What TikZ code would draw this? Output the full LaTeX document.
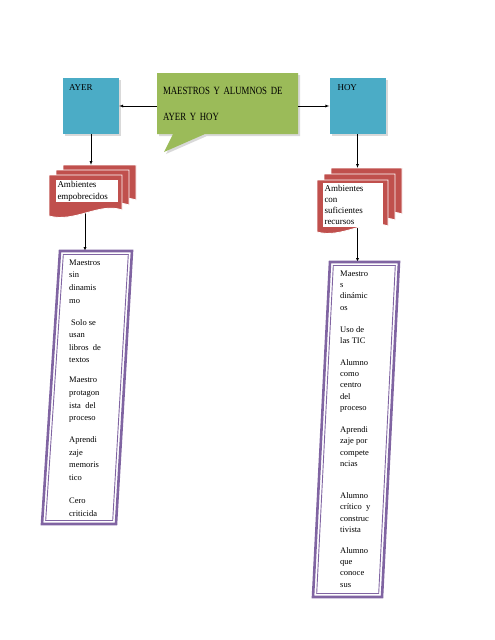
\documentclass[tikz,border=0pt]{standalone}
\usepackage{fontspec}
\setmainfont{Liberation Serif}
\newfontfamily\temafont[FakeStretch=0.8]{Liberation Serif}
\usetikzlibrary{shapes.callouts,shadows}

\definecolor{azulbox}{HTML}{4BACC6}
\definecolor{verdetema}{HTML}{9BBB59}
\definecolor{rojodoc}{HTML}{C0504D}
\definecolor{moradomarco}{HTML}{8064A2}

\tikzset{
  sombra/.style={drop shadow={shadow xshift=2pt, shadow yshift=-2pt, fill=gray!30, opacity=1}},
  cuadro/.style={fill=azulbox, minimum width=56pt, minimum height=56pt, inner sep=0pt, sombra},
  tema/.style={rectangle callout, fill=verdetema, sombra, minimum width=141pt, minimum height=61pt,
    text width=129pt, inner xsep=6pt, align=left, font=\temafont\fontsize{11}{26}\selectfont,
    callout absolute pointer={(164,152)}, callout pointer width=32pt},
  hojadoc/.style={fill=rojodoc, draw=white, line width=0.8pt},
  etiqueta/.style={fill=white, align=left, inner xsep=1.5pt, inner ysep=0pt, font=\fontsize{9}{12}\selectfont},
  marco/.style={draw=moradomarco, line width=2.6pt, line join=miter},
  marcoint/.style={draw=moradomarco, line width=0.9pt},
  lista/.style={anchor=north west, inner sep=0pt, align=left, font=\fontsize{8.5}{12.6}\selectfont},
  lista2/.style={lista, font=\fontsize{8.5}{11.3}\selectfont}
}

% one sheet of a stacked document: x, y, width, height
\newcommand{\hoja}[4]{%
  \draw[hojadoc] (#1,#2) -- (#1+#3,#2) -- (#1+#3,#2+#4-7)
    .. controls (#1+0.7*#3,#2+#4-15) and (#1+0.35*#3,#2+#4+6) .. (#1,#2+#4-1) -- cycle;}

\begin{document}
\begin{tikzpicture}[x=1pt,y=-1pt,>=latex]
    \useasboundingbox (0,0) rectangle (495,640);
    % Title and the two columns
    \node[tema] (tema) at (227.5,103.5) {MAESTROS Y ALUMNOS DE\\AYER Y HOY};
    \node[cuadro, label={[anchor=north west, inner sep=0pt, xshift=6pt, yshift=-7pt, font=\fontsize{9}{11}\selectfont]north west:AYER}] (ayer) at (91,106) {};
    \node[cuadro, label={[anchor=north west, inner sep=0pt, xshift=8pt, yshift=-7pt, font=\fontsize{9}{11}\selectfont]north west:HOY}] (hoy) at (357.5,106) {};
    % Arrows from the title
    \draw[->] (tema.west |- ayer.east) -- (ayer.east);
    \draw[->] (tema.east |- hoy.west) -- (hoy.west);
    % Arrows down the columns
    \coordinate (hojasayer) at (91,165);
    \coordinate (hojashoy) at (357.5,168);
    \coordinate (marcoayer) at (85,251);
    \coordinate (marcohoy) at (357.5,262);
    \draw[->] (ayer.south) -- (hojasayer);
    \draw[->] (hoy.south) -- (hojashoy);
    \draw[->] (85,205) -- (marcoayer);
    \draw[->] (357.5,215) -- (marcohoy);
    % Stacked documents
    \foreach \k in {2,1,0} \hoja{49+7*\k}{175-5*\k}{73}{42};
    \foreach \k in {2,1,0} \hoja{317+7*\k}{180-6*\k}{71}{53};
    \node[etiqueta, text width=59pt, minimum height=22pt] (docayer) at (87,191) {Ambientes\\empobrecidos};
    \node[etiqueta, text width=57pt, minimum height=44pt, font=\fontsize{9}{11}\selectfont] (dochoy) at (353,205) {Ambientes\\con\\suficientes\\recursos};
    % Framed lists
    \draw[marco] (60,251) -- (132,251) -- (116,524) -- (42,524) -- cycle;
    \draw[marcoint] (63.3,254.5) -- (128.3,254.5) -- (112.7,520.5) -- (45.7,520.5) -- cycle;
    \draw[marco] (330,262) -- (399,262) -- (382,597) -- (313,597) -- cycle;
    \draw[marcoint] (333.3,265.5) -- (395.3,265.5) -- (378.7,593.5) -- (316.7,593.5) -- cycle;
    \node[lista] (textoayer) at (69,259.5) {Maestros\\sin\\dinamis\\mo\\[9.4pt]
        \hspace*{2pt}Solo se\\usan\\libros\enspace de\\textos\\[7.4pt]
        Maestro\\protagon\\ista\enspace del\\proceso\\[9.4pt]
        Aprendi\\zaje\\memoris\\tico\\[10.4pt]
        Cero\\criticida};
    \node[lista2] (textohoy) at (340,270.4) {Maestro\\s\\dinámic\\os\\[10.7pt]
        Uso de\\las TIC\\[10.7pt]
        Alumno\\como\\centro\\del\\proceso\\[10.7pt]
        Aprendi\\zaje por\\compete\\ncias\\[20.7pt]
        Alumno\\crítico\enspace y\\construc\\tivista\\[9.7pt]
        Alumno\\que\\conoce\\sus};
\end{tikzpicture}
\end{document}
